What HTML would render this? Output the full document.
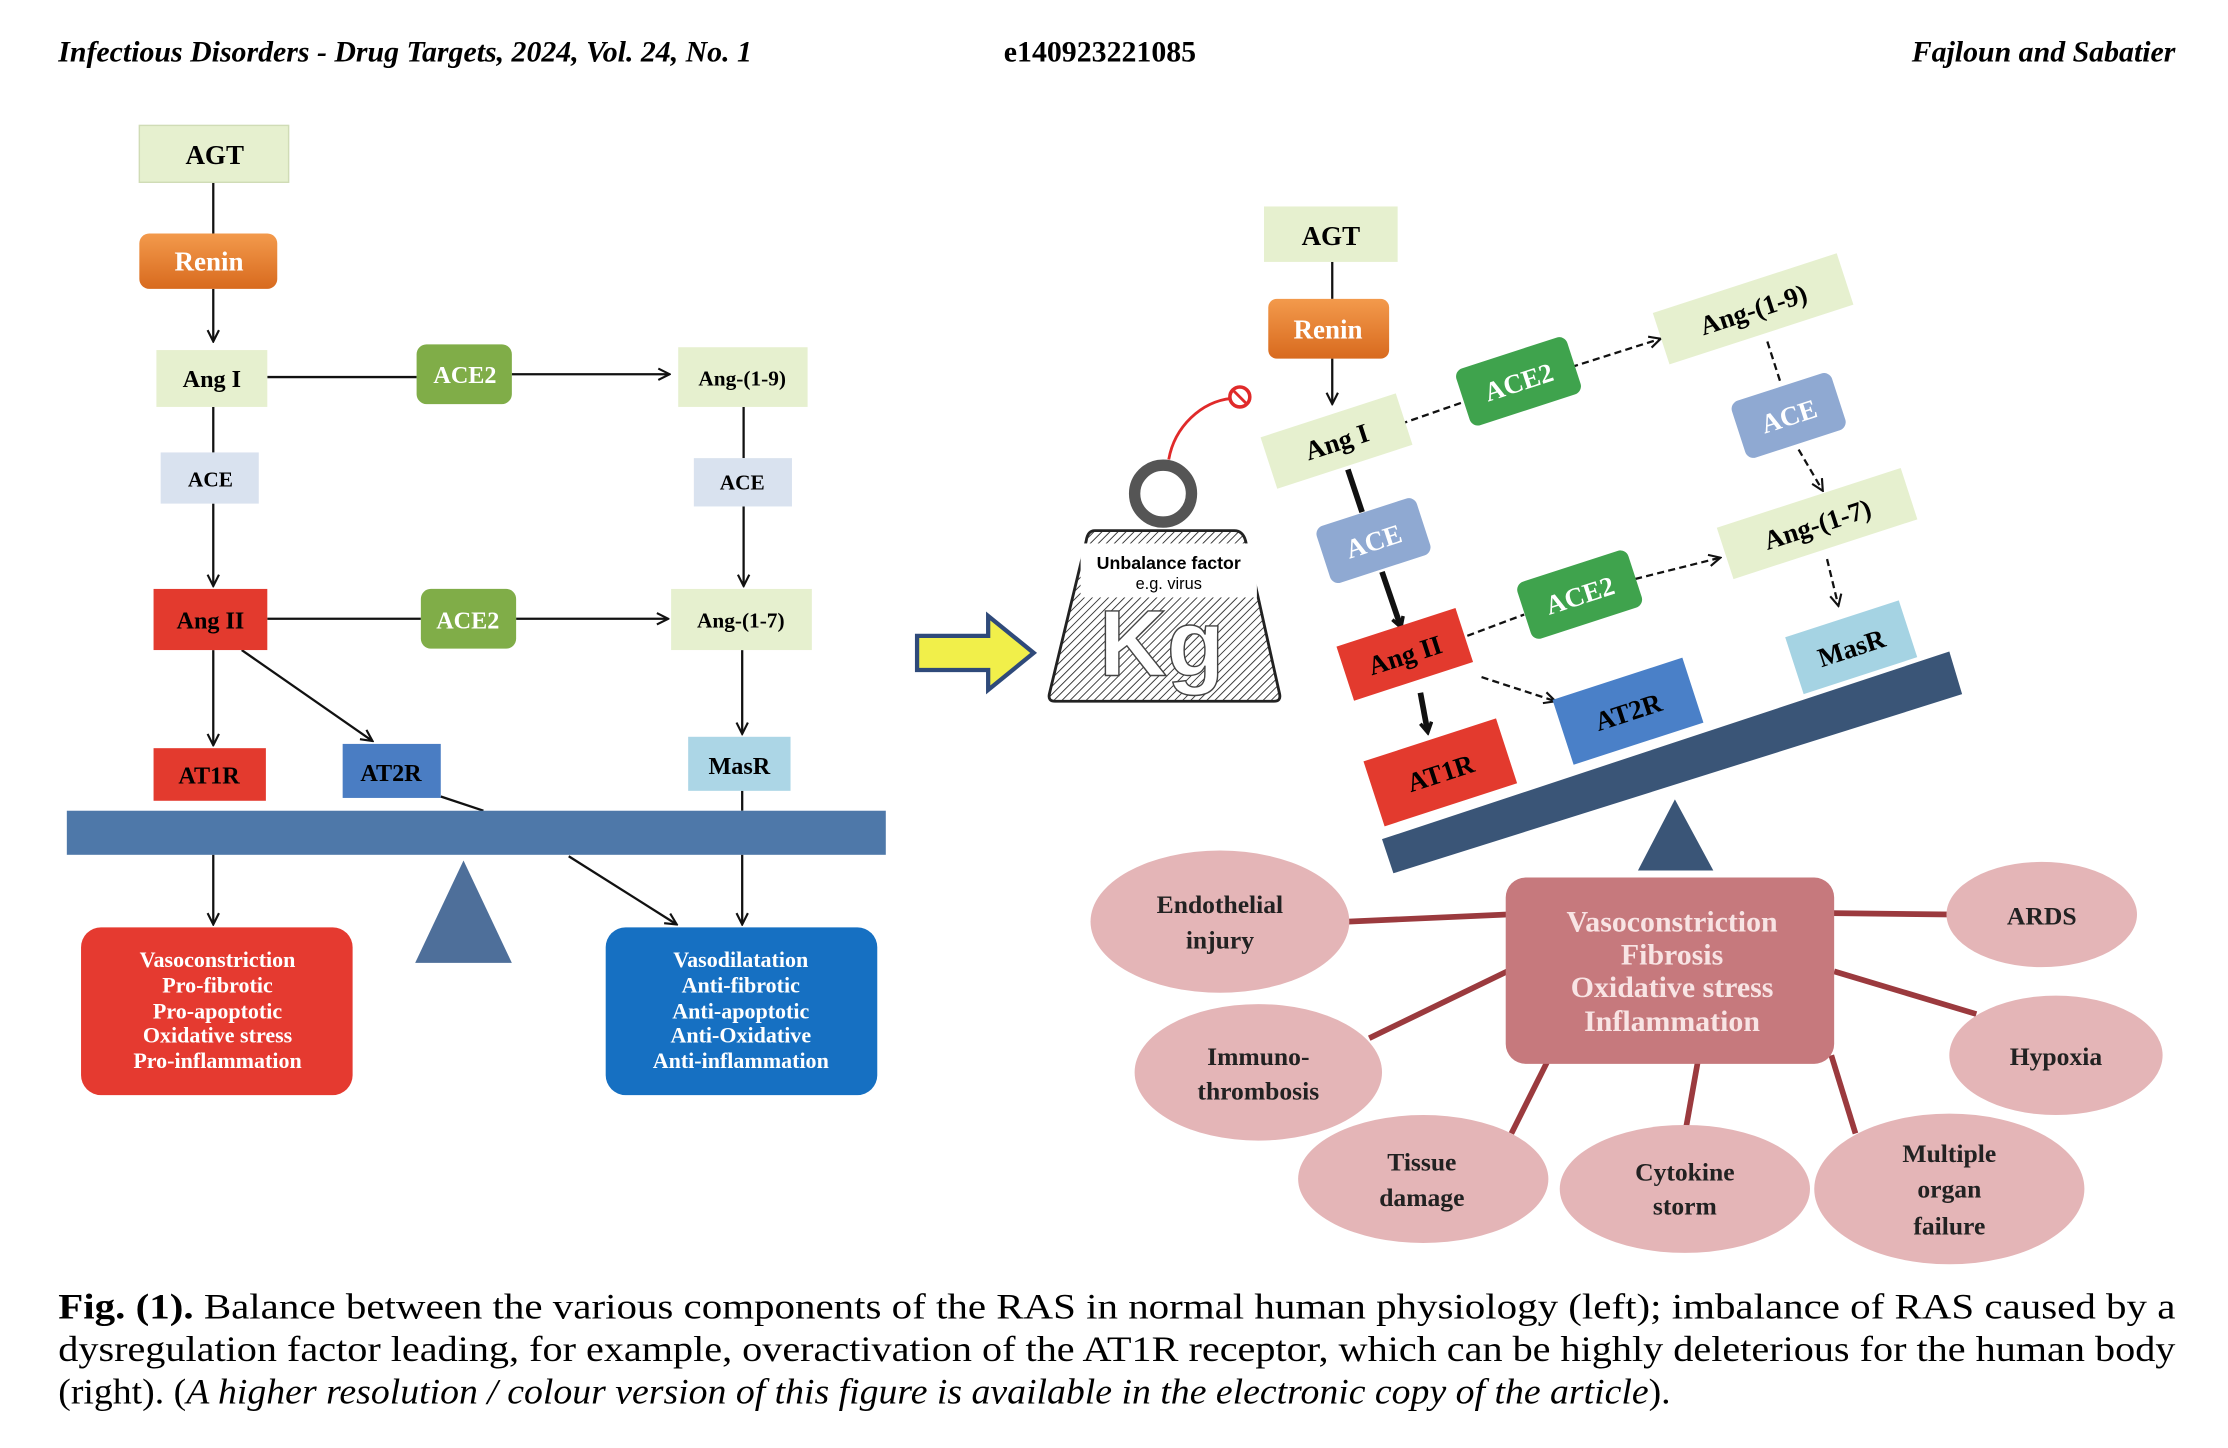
<!DOCTYPE html>
<html><head><meta charset="utf-8"><style>
html,body{margin:0;padding:0;background:#fff}
svg{display:block}
text{font-family:"Liberation Serif",serif}
.b{font-weight:bold}
</style></head><body>
<svg width="2228" height="1448" viewBox="0 0 1567 1018" xmlns="http://www.w3.org/2000/svg">
<defs>
<marker id="a" markerWidth="10" markerHeight="10" refX="9" refY="5" orient="auto" markerUnits="userSpaceOnUse"><path d="M1,1 L9,5 L1,9" fill="none" stroke="#111" stroke-width="1.5"/></marker>
<marker id="ab" markerWidth="10" markerHeight="10" refX="7" refY="5" orient="auto" markerUnits="userSpaceOnUse"><path d="M1,1 L8,5 L1,9" fill="none" stroke="#111" stroke-width="2.5"/></marker>
<pattern id="h" width="4" height="4" patternUnits="userSpaceOnUse" patternTransform="rotate(45)"><line x1="0" y1="0" x2="0" y2="4" stroke="#333" stroke-width="1.3"/></pattern>
<linearGradient id="or" x1="0" y1="0" x2="0" y2="1"><stop offset="0" stop-color="#f39a4c"/><stop offset="1" stop-color="#d86a1e"/></linearGradient>
</defs>
<!-- header -->
<text x="41" y="43" font-size="21" font-style="italic" class="b">Infectious Disorders - Drug Targets, 2024, Vol. 24, No. 1</text>
<text x="706" y="43" font-size="21" class="b">e140923221085</text>
<text x="1530" y="43" font-size="21" font-style="italic" class="b" text-anchor="end">Fajloun and Sabatier</text>

<!-- LEFT -->
<g stroke="#111" stroke-width="1.6" fill="none">
<line x1="150" y1="128" x2="150" y2="164"/>
<line x1="150" y1="203" x2="150" y2="240" marker-end="url(#a)"/>
<line x1="188" y1="265" x2="293" y2="265"/>
<line x1="360" y1="263" x2="471" y2="263" marker-end="url(#a)"/>
<line x1="150" y1="286" x2="150" y2="318"/>
<line x1="150" y1="354" x2="150" y2="412" marker-end="url(#a)"/>
<line x1="523" y1="286" x2="523" y2="322"/>
<line x1="523" y1="356" x2="523" y2="412" marker-end="url(#a)"/>
<line x1="188" y1="435" x2="296" y2="435"/>
<line x1="363" y1="435" x2="470" y2="435" marker-end="url(#a)"/>
<line x1="150" y1="457" x2="150" y2="524" marker-end="url(#a)"/>
<line x1="170" y1="457" x2="262" y2="521" marker-end="url(#a)"/>
<line x1="522" y1="457" x2="522" y2="516" marker-end="url(#a)"/>
<line x1="310" y1="560" x2="340" y2="570"/>
<line x1="522" y1="556" x2="522" y2="570"/>
<line x1="150" y1="601" x2="150" y2="650" marker-end="url(#a)"/>
<line x1="400" y1="602" x2="476" y2="650" marker-end="url(#a)"/>
<line x1="522" y1="601" x2="522" y2="650" marker-end="url(#a)"/>
</g>
<g font-size="19" class="b" text-anchor="middle">
<rect x="98" y="88" width="105" height="40" fill="#e6f0cf" stroke="#d0dcb6"/><text x="151" y="115">AGT</text>
<rect x="98" y="164" width="97" height="39" rx="7" fill="url(#or)"/><text x="147" y="190" fill="#fff">Renin</text>
<rect x="110" y="246" width="78" height="40" fill="#e6f0cf"/><text x="149" y="272" font-size="17">Ang I</text>
<rect x="293" y="242" width="67" height="42" rx="7" fill="#80ad48"/><text x="327" y="269" font-size="17" fill="#fff">ACE2</text>
<rect x="477" y="244" width="91" height="42" fill="#e6f0cf"/><text x="522" y="271" font-size="15">Ang-(1-9)</text>
<rect x="113" y="318" width="69" height="36" fill="#d9e2ef"/><text x="148" y="342" font-size="15">ACE</text>
<rect x="488" y="322" width="69" height="34" fill="#d9e2ef"/><text x="522" y="344" font-size="15">ACE</text>
<rect x="108" y="414" width="80" height="43" fill="#e33a2e"/><text x="148" y="442" font-size="17">Ang II</text>
<rect x="296" y="414" width="67" height="42" rx="7" fill="#80ad48"/><text x="329" y="442" font-size="17" fill="#fff">ACE2</text>
<rect x="472" y="414" width="99" height="43" fill="#e6f0cf"/><text x="521" y="441" font-size="15">Ang-(1-7)</text>
<rect x="108" y="526" width="79" height="37" fill="#e33a2e"/><text x="147" y="551" font-size="17">AT1R</text>
<rect x="241" y="523" width="69" height="38" fill="#4a7dc3"/><text x="275" y="549" font-size="17">AT2R</text>
<rect x="484" y="518" width="72" height="38" fill="#acd6e6"/><text x="520" y="544" font-size="17">MasR</text>
</g>
<rect x="47" y="570" width="576" height="31" fill="#4e78a9"/>
<polygon points="326,605 292,677 360,677" fill="#4e6f9a"/>
<rect x="57" y="652" width="191" height="118" rx="14" fill="#e53a30"/>
<rect x="426" y="652" width="191" height="118" rx="14" fill="#1670c2"/>
<g font-size="15.5" class="b" fill="#fff" text-anchor="middle">
<text x="153" y="680">Vasoconstriction</text><text x="153" y="698">Pro-fibrotic</text><text x="153" y="716">Pro-apoptotic</text><text x="153" y="733">Oxidative stress</text><text x="153" y="751">Pro-inflammation</text>
<text x="521" y="680">Vasodilatation</text><text x="521" y="698">Anti-fibrotic</text><text x="521" y="716">Anti-apoptotic</text><text x="521" y="733">Anti-Oxidative</text><text x="521" y="751">Anti-inflammation</text>
</g>

<!-- yellow arrow -->
<polygon points="645,447 695,447 695,433 727,459 695,485 695,471 645,471" fill="#f1ef4a" stroke="#2f4a7a" stroke-width="3"/>

<!-- weight -->
<path d="M822,323 C826,300 845,282 866,280" fill="none" stroke="#e02a2a" stroke-width="2"/>
<circle cx="872" cy="279" r="7" fill="none" stroke="#e02a2a" stroke-width="2.5"/><line x1="867" y1="274" x2="877" y2="284" stroke="#e02a2a" stroke-width="2"/>
<circle cx="818" cy="347" r="20" fill="none" stroke="#555" stroke-width="8"/>
<path d="M770,373 L868,373 Q874,373 876,380 L900,488 Q901,493 896,493 L742,493 Q737,493 738,488 L764,380 Q765,373 770,373Z" fill="url(#h)" stroke="#222" stroke-width="2"/>
<rect x="760" y="382" width="124" height="38" fill="#fff"/>
<text x="822" y="400" font-size="12.5" font-weight="bold" text-anchor="middle" style="font-family:'Liberation Sans',sans-serif">Unbalance factor</text>
<text x="822" y="414" font-size="11.5" text-anchor="middle" style="font-family:'Liberation Sans',sans-serif">e.g. virus</text>
<text x="817" y="475" font-size="66" font-weight="bold" text-anchor="middle" fill="#fff" stroke="#444" stroke-width="1" style="font-family:'Liberation Sans',sans-serif">Kg</text>

<!-- RIGHT -->
<g stroke="#111" stroke-width="1.6" fill="none">
<line x1="937" y1="184" x2="937" y2="210"/>
<line x1="937" y1="252" x2="937" y2="284" marker-end="url(#a)"/>
<g stroke-dasharray="5,3">
<line x1="985" y1="298" x2="1028" y2="283"/>
<line x1="1105" y1="258" x2="1168" y2="238" marker-end="url(#a)"/>
<line x1="1243" y1="240" x2="1252" y2="268"/>
<line x1="1265" y1="316" x2="1282" y2="345" marker-end="url(#a)"/>
<line x1="1032" y1="447" x2="1072" y2="432"/>
<line x1="1150" y1="407" x2="1210" y2="392" marker-end="url(#a)"/>
<line x1="1285" y1="393" x2="1293" y2="426" marker-end="url(#a)"/>
<line x1="1042" y1="476" x2="1094" y2="493" marker-end="url(#a)"/>
</g>
<line x1="948" y1="330" x2="958" y2="360" stroke-width="4"/>
<line x1="972" y1="402" x2="985" y2="440" stroke-width="4" marker-end="url(#ab)"/>
<line x1="999" y1="487" x2="1004" y2="514" stroke-width="4" marker-end="url(#ab)"/>
</g>
<rect x="889" y="145" width="94" height="39" fill="#e6f0cf"/><text x="936" y="172" font-size="19" class="b" text-anchor="middle">AGT</text>
<rect x="892" y="210" width="85" height="42" rx="6" fill="url(#or)"/><text x="934" y="238" font-size="19" class="b" fill="#fff" text-anchor="middle">Renin</text>
<g font-size="19" class="b" text-anchor="middle">
<g transform="rotate(-18 940 310)"><rect x="890" y="291" width="100" height="38" fill="#e6f0cf"/><text x="940" y="317">Ang I</text></g>
<g transform="rotate(-18 1068 268)"><rect x="1027" y="247" width="82" height="42" rx="6" fill="#3fa34d"/><text x="1068" y="275" fill="#fff">ACE2</text></g>
<g transform="rotate(-18 1233 217)"><rect x="1165" y="198" width="136" height="38" fill="#e6f0cf"/><text x="1233" y="224">Ang-(1-9)</text></g>
<g transform="rotate(-18 1258 292)"><rect x="1221" y="271" width="74" height="42" rx="6" fill="#8fa9d2"/><text x="1258" y="299" fill="#fff">ACE</text></g>
<g transform="rotate(-18 966 380)"><rect x="929" y="359" width="74" height="42" rx="6" fill="#8fa9d2"/><text x="966" y="387" fill="#fff">ACE</text></g>
<g transform="rotate(-18 1278 368)"><rect x="1210" y="349" width="136" height="38" fill="#e6f0cf"/><text x="1278" y="375">Ang-(1-7)</text></g>
<g transform="rotate(-18 1111 418)"><rect x="1070" y="397" width="82" height="42" rx="6" fill="#3fa34d"/><text x="1111" y="425" fill="#fff">ACE2</text></g>
<g transform="rotate(-18 988 460)"><rect x="944" y="440" width="88" height="40" fill="#e33a2e"/><text x="988" y="467">Ang II</text></g>
<g transform="rotate(-18 1302 455)"><rect x="1260" y="434" width="84" height="42" fill="#a5d3e3"/><text x="1302" y="462">MasR</text></g>
</g>
<polygon points="972,590 1371,458 1380,488 980,614" fill="#3a5577"/>
<g font-size="19" class="b" text-anchor="middle">
<g transform="rotate(-18 1145 500)"><rect x="1097" y="476" width="96" height="48" fill="#4a80c8"/><text x="1145" y="507">AT2R</text></g>
<g transform="rotate(-18 1013 543)"><rect x="964" y="519" width="98" height="48" fill="#e33a2e"/><text x="1013" y="550">AT1R</text></g>
</g>
<polygon points="1178,562 1152,612 1205,612" fill="#3a5577"/>

<!-- bottom consequences -->
<g stroke="#9b3a3e" stroke-width="4">
<line x1="948" y1="648" x2="1060" y2="643"/>
<line x1="963" y1="730" x2="1060" y2="683"/>
<line x1="1063" y1="797" x2="1088" y2="747"/>
<line x1="1186" y1="792" x2="1194" y2="747"/>
<line x1="1305" y1="797" x2="1288" y2="742"/>
<line x1="1390" y1="713" x2="1290" y2="683"/>
<line x1="1372" y1="643" x2="1288" y2="642"/>
</g>
<g fill="#e4b5b7">
<ellipse cx="858" cy="648" rx="91" ry="50"/>
<ellipse cx="885" cy="754" rx="87" ry="48"/>
<ellipse cx="1001" cy="829" rx="88" ry="45"/>
<ellipse cx="1185" cy="836" rx="88" ry="45"/>
<ellipse cx="1371" cy="836" rx="95" ry="53"/>
<ellipse cx="1446" cy="742" rx="75" ry="42"/>
<ellipse cx="1436" cy="643" rx="67" ry="37"/>
</g>
<rect x="1059" y="617" width="231" height="131" rx="14" fill="#c6797d"/>
<g font-size="21" class="b" fill="#f8e4e4" text-anchor="middle">
<text x="1176" y="655">Vasoconstriction</text><text x="1176" y="678">Fibrosis</text><text x="1176" y="701">Oxidative stress</text><text x="1176" y="725">Inflammation</text>
</g>
<g font-size="18" class="b" fill="#222" text-anchor="middle">
<text x="858" y="642">Endothelial</text><text x="858" y="667">injury</text>
<text x="885" y="749">Immuno-</text><text x="885" y="773">thrombosis</text>
<text x="1000" y="823">Tissue</text><text x="1000" y="848">damage</text>
<text x="1185" y="830">Cytokine</text><text x="1185" y="854">storm</text>
<text x="1371" y="817">Multiple</text><text x="1371" y="842">organ</text><text x="1371" y="868">failure</text>
<text x="1446" y="749">Hypoxia</text>
<text x="1436" y="650">ARDS</text>
</g>

<!-- caption -->
<g font-size="25">
<text x="41" y="927" textLength="1489" lengthAdjust="spacingAndGlyphs"><tspan class="b">Fig. (1).</tspan> Balance between the various components of the RAS in normal human physiology (left); imbalance of RAS caused by a</text>
<text x="41" y="957" textLength="1489" lengthAdjust="spacingAndGlyphs">dysregulation factor leading, for example, overactivation of the AT1R receptor, which can be highly deleterious for the human body</text>
<text x="41" y="987" textLength="1134" lengthAdjust="spacingAndGlyphs">(right). (<tspan font-style="italic">A higher resolution / colour version of this figure is available in the electronic copy of the article</tspan>).</text>
</g>
</svg>
</body></html>
